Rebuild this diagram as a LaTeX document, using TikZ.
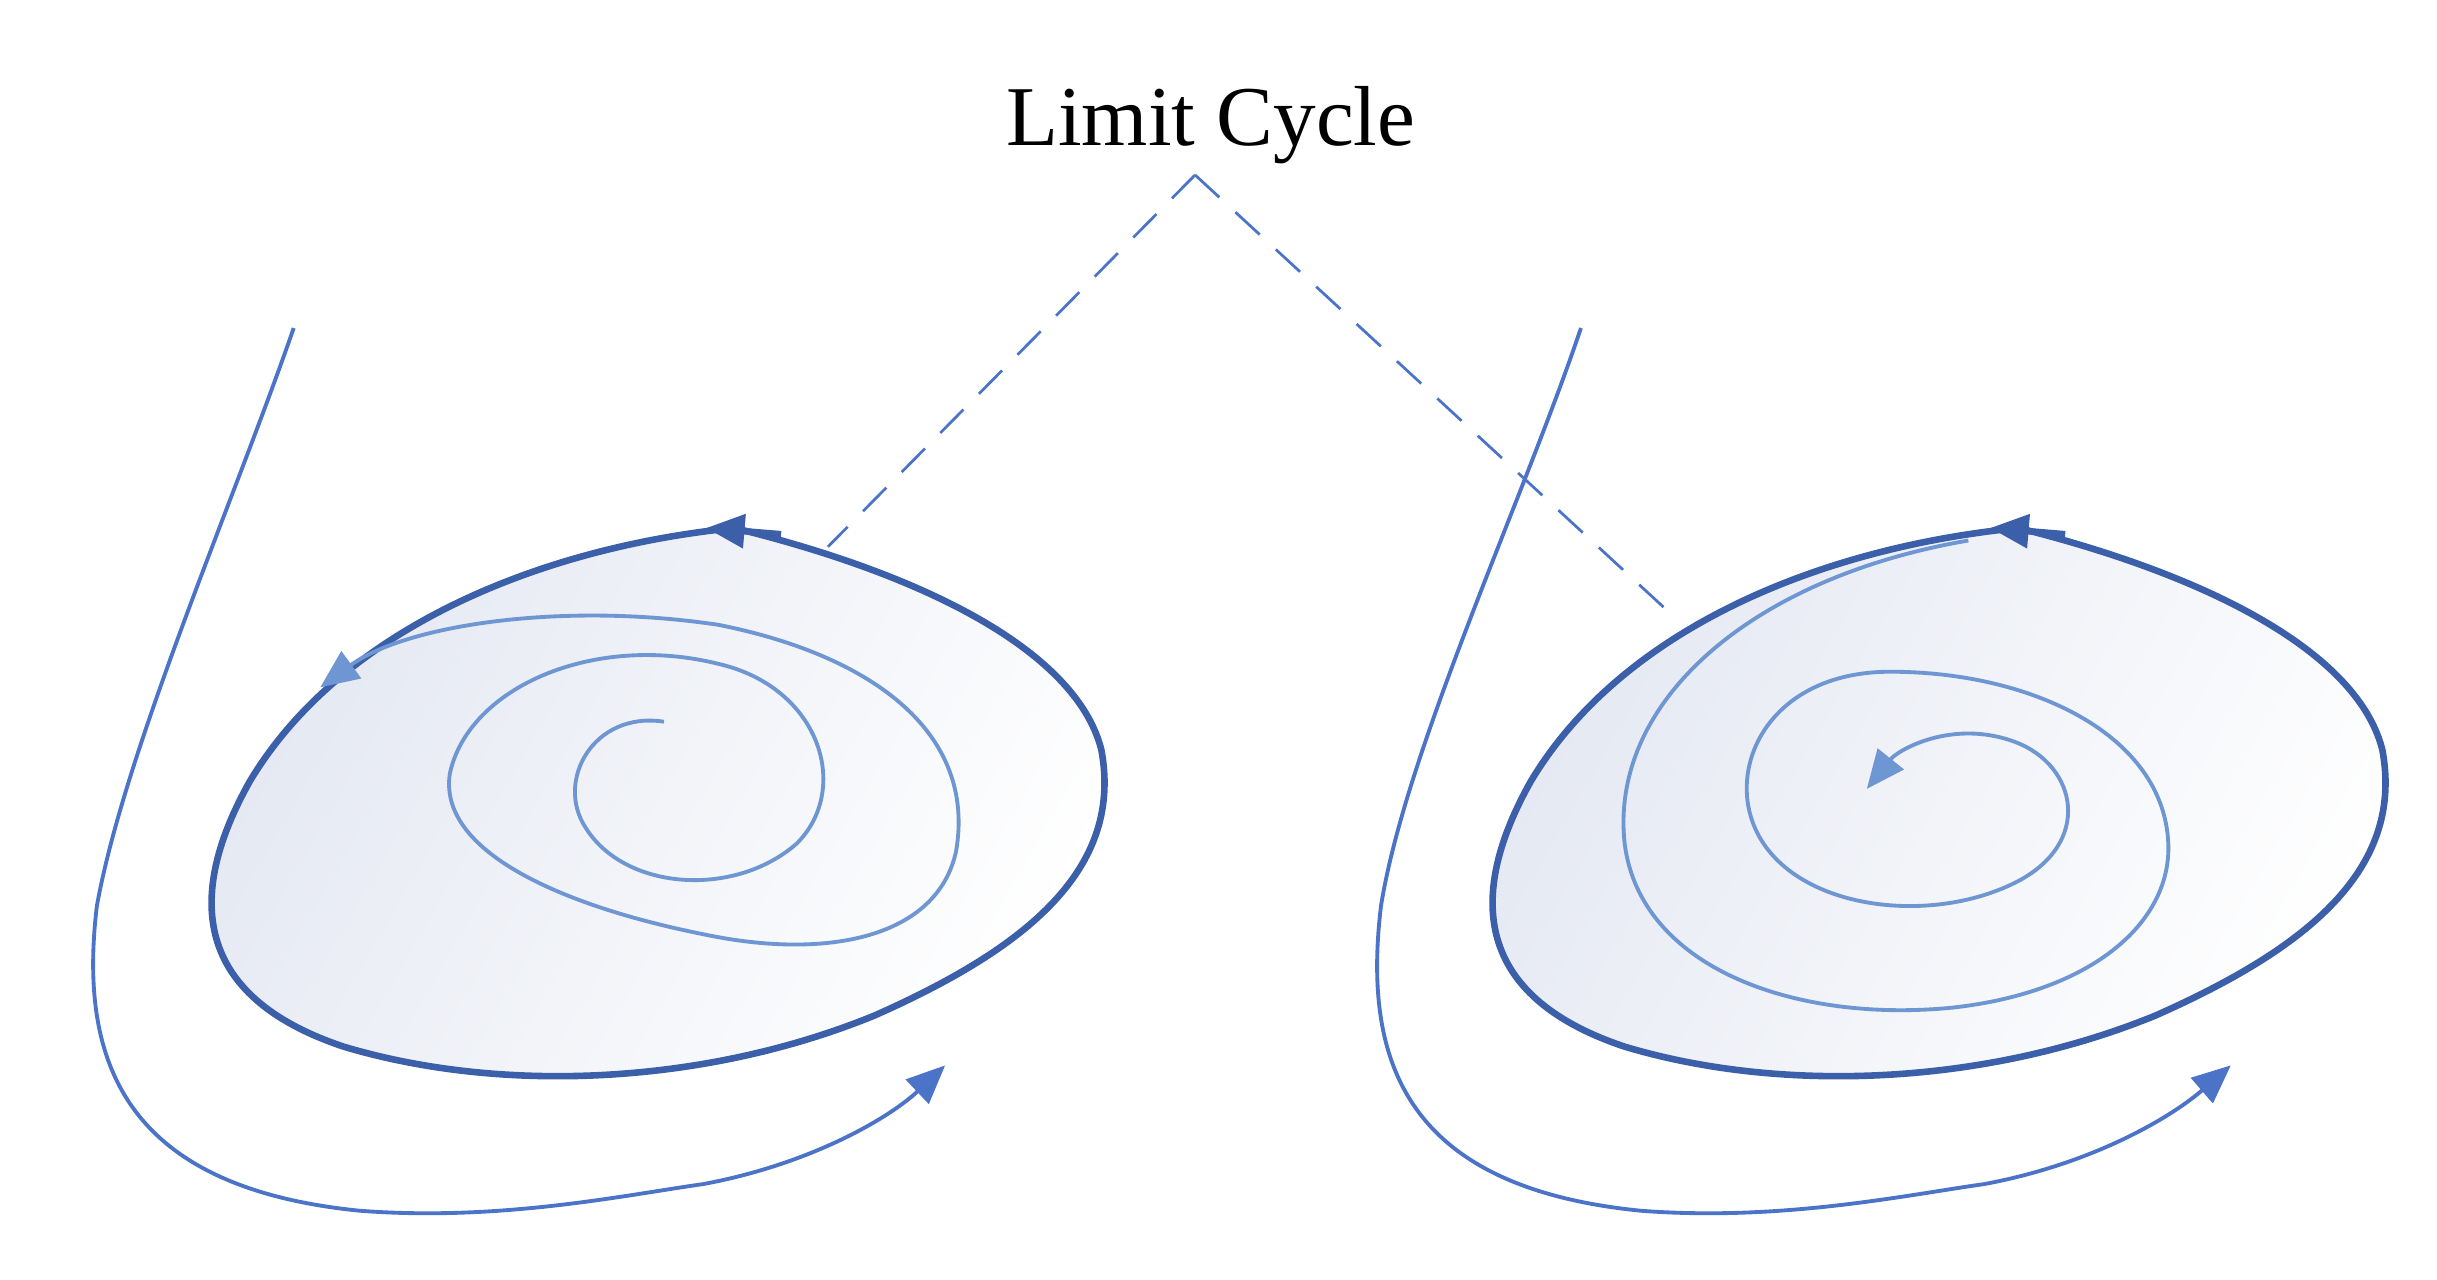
\documentclass[tikz,border=0pt]{standalone}
\usepackage{fontspec}
\setmainfont{Liberation Serif}
\usetikzlibrary{arrows.meta}
\definecolor{dblue}{RGB}{60,95,170}
\definecolor{mblue}{RGB}{75,115,200}
\definecolor{lblue}{RGB}{110,150,210}
\definecolor{shd}{RGB}{228,232,242}
\tikzset{
 cyc/.style={draw=dblue,line width=1.2pt,left color=shd,right color=white,shading angle=60},
 spir/.style={draw=lblue,line width=0.7pt},
 outer/.style={draw=mblue,line width=0.7pt},
 tip/.style={-{Triangle[length=7pt,width=6pt]}},
 lead/.style={draw=mblue,dashed,dash pattern=on 6pt off 4pt,line width=0.5pt}
}
\begin{document}
\begin{tikzpicture}[x=0.01cm,y=-0.01cm]
\useasboundingbox (0,0) rectangle (1560,819);
\node[font=\fontsize{15.5}{18}\selectfont] (lbl) at (775,80) {Limit Cycle};
\coordinate (apex) at (765,112);
% left
\path[cyc] (470,338) .. controls (350,350) and (220,400) .. (160,500)
 .. controls (115,580) and (130,640) .. (220,670)
 .. controls (320,700) and (450,695) .. (560,650)
 .. controls (650,610) and (720,560) .. (705,480)
 .. controls (690,420) and (600,370) .. (470,338) -- cycle;
\draw[draw=dblue,line width=1.2pt,tip] (500,342) -- (452,338);
\draw[spir,tip] (425,462) .. controls (380,455) and (355,500) .. (375,530)
 .. controls (400,570) and (470,575) .. (510,540)
 .. controls (545,505) and (525,440) .. (460,425)
 .. controls (380,405) and (300,440) .. (288,495)
 .. controls (280,545) and (360,580) .. (450,598)
 .. controls (530,615) and (600,600) .. (612,545)
 .. controls (625,470) and (560,420) .. (460,400)
 .. controls (360,385) and (260,400) .. (205,440);
\draw[outer,tip] (188,210) .. controls (150,320) and (80,480) .. (62,580)
 .. controls (50,680) and (80,760) .. (230,775)
 .. controls (320,782) and (400,765) .. (450,758)
 .. controls (520,745) and (570,715) .. (605,682);
% right
\path[cyc] (1292,338) .. controls (1170,350) and (1040,400) .. (980,500)
 .. controls (935,580) and (950,640) .. (1040,670)
 .. controls (1140,700) and (1270,695) .. (1380,650)
 .. controls (1470,610) and (1540,560) .. (1525,480)
 .. controls (1510,420) and (1420,370) .. (1292,338) -- cycle;
\draw[draw=dblue,line width=1.2pt,tip] (1322,342) -- (1274,338);
\draw[spir,tip] (1260,346) .. controls (1120,370) and (1030,450) .. (1040,540)
 .. controls (1050,620) and (1150,655) .. (1250,645)
 .. controls (1340,635) and (1390,590) .. (1388,540)
 .. controls (1385,470) and (1300,430) .. (1210,430)
 .. controls (1140,430) and (1110,480) .. (1120,520)
 .. controls (1135,580) and (1230,595) .. (1290,565)
 .. controls (1340,540) and (1330,490) .. (1290,475)
 .. controls (1250,460) and (1215,480) .. (1195,505);
\draw[outer,tip] (1012,210) .. controls (975,320) and (900,480) .. (884,580)
 .. controls (872,680) and (900,760) .. (1050,775)
 .. controls (1140,782) and (1220,765) .. (1270,758)
 .. controls (1340,745) and (1390,715) .. (1428,682);
% leaders
\coordinate (l1) at (530,350);
\coordinate (l2) at (1075,398);
\draw[lead] (apex) -- (l1);
\draw[lead] (apex) -- (l2);
\end{tikzpicture}
\end{document}
